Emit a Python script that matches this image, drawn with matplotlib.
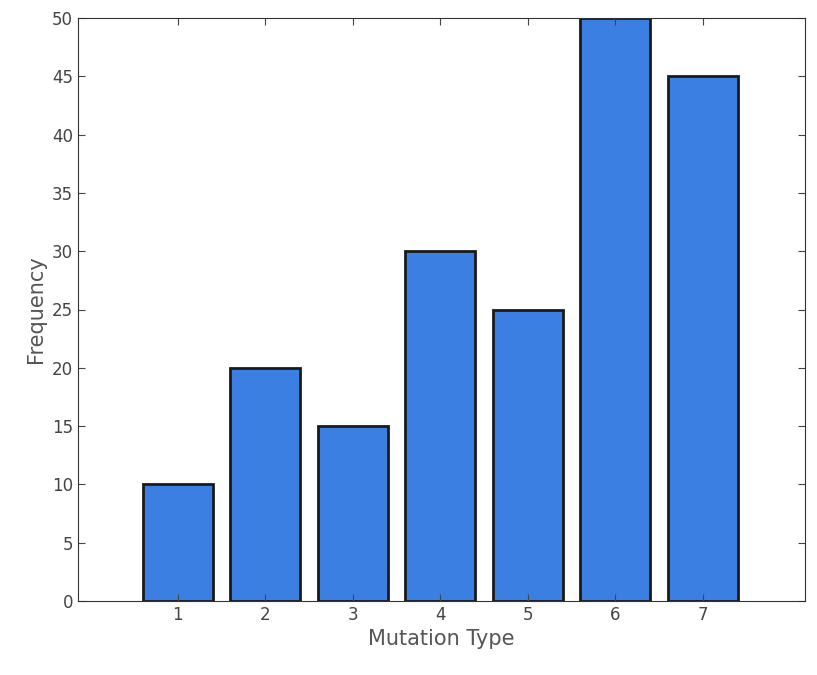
import matplotlib.pyplot as plt
import numpy as np

# mutation types and their frequencies
types = [1, 2, 3, 4, 5, 6, 7]
freq = [10, 20, 15, 30, 25, 50, 45]

fig = plt.figure(figsize=(8.17, 6.75), dpi=100)
ax = fig.add_axes([78/817, 1 - 601/675, (805-78)/817, (601-18)/675])

ax.bar(types, freq, width=0.8, color='#3b7fe3', edgecolor='#1a1a1a', linewidth=2)

ax.set_xlim(-0.14, 8.17)
ax.set_ylim(0, 50)
ax.set_xticks(types)
ax.set_yticks(np.arange(0, 51, 5))
ax.tick_params(direction='in', top=True, right=True, labelsize=12, colors='#444444', length=5)
for s in ax.spines.values():
    s.set_color('#333333')
ax.set_xlabel('Mutation Type', fontsize=15, color='#555555')
ax.set_ylabel('Frequency', fontsize=15, color='#555555')

fig.savefig('out.png', dpi=100)
